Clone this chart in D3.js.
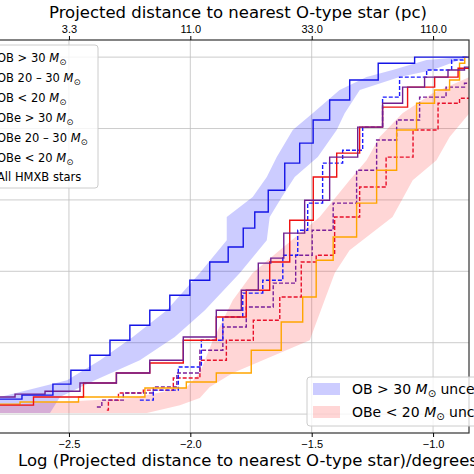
<!DOCTYPE html>
<html><head><meta charset="utf-8">
<script src="https://cdn.jsdelivr.net/npm/d3@7"></script>
<style>body{margin:0;background:#fff}svg{font-family:"DejaVu Sans",sans-serif}</style>
</head><body>
<svg id="svgRoot" width="474" height="474"></svg>
<script>
// cumulative curves, [log distance, fraction]
const ob_gt30 = [[-2.784,0.042],[-2.603,0.053],[-2.529,0.084],[-2.455,0.123],[-2.372,0.165],[-2.290,0.207],[-2.208,0.249],[-2.126,0.291],[-2.043,0.333],[-1.961,0.375],[-1.879,0.426],[-1.809,0.468],[-1.755,0.521],[-1.714,0.566],[-1.644,0.627],[-1.578,0.703],[-1.521,0.759],[-1.467,0.824],[-1.385,0.880],[-1.302,0.936],[-1.150,0.983],[-1.002,1.0],[-0.85,1.0]]
const ob_20_30 = [[-2.784,0.048],[-2.660,0.056],[-2.537,0.064],[-2.372,0.087],[-2.237,0.115],[-2.097,0.151],[-1.961,0.216],[-1.825,0.291],[-1.755,0.347],[-1.685,0.423],[-1.652,0.437],[-1.578,0.507],[-1.480,0.599],[-1.372,0.720],[-1.249,0.804],[-1.167,0.871],[-1.084,0.916],[-0.986,0.944],[-0.891,0.964],[-0.85,0.972]]
const ob_lt20 = [[-2.784,0.025],[-2.508,0.048],[-2.372,0.087],[-2.237,0.115],[-2.097,0.143],[-1.961,0.207],[-1.825,0.272],[-1.714,0.347],[-1.632,0.426],[-1.549,0.543],[-1.438,0.664],[-1.356,0.731],[-1.249,0.804],[-1.167,0.860],[-1.043,0.916],[-0.944,0.944],[-0.85,0.969]]
const obe_gt30 = [[-2.208,0.039],[-2.097,0.067],[-2.002,0.132],[-1.907,0.207],[-1.825,0.272],[-1.743,0.339],[-1.660,0.375],[-1.578,0.445],[-1.537,0.515],[-1.496,0.591],[-1.414,0.703],[-1.331,0.739],[-1.249,0.804],[-1.167,0.888],[-1.109,0.944],[-0.944,0.964],[-0.903,0.992],[-0.85,1.0]]
const obe_20_30 = [[-2.385,0.020],[-2.344,0.039],[-2.208,0.059],[-2.097,0.076],[-2.014,0.115],[-1.907,0.179],[-1.825,0.244],[-1.714,0.300],[-1.603,0.367],[-1.529,0.445],[-1.467,0.515],[-1.356,0.591],[-1.274,0.683],[-1.191,0.768],[-1.109,0.824],[-1.002,0.888],[-0.891,0.916],[-0.85,0.927]]
const obe_lt20 = [[-2.344,0.011],[-2.331,0.039],[-2.261,0.059],[-2.126,0.067],[-2.014,0.101],[-1.907,0.151],[-1.796,0.207],[-1.685,0.263],[-1.578,0.328],[-1.508,0.426],[-1.455,0.445],[-1.356,0.552],[-1.249,0.636],[-1.138,0.720],[-1.027,0.796],[-0.932,0.871],[-0.85,0.885]]
const all_hmxb = [[-2.784,0.028],[-2.619,0.034],[-2.302,0.048],[-2.072,0.073],[-1.961,0.090],[-1.825,0.115],[-1.673,0.179],[-1.578,0.258],[-1.496,0.328],[-1.467,0.431],[-1.356,0.496],[-1.274,0.591],[-1.191,0.683],[-1.109,0.796],[-1.027,0.871],[-0.961,0.908],[-0.903,0.936],[-0.879,0.983],[-0.86,1.0],[-0.85,1.0]]

// uncertainty bands: [fraction, left x, right x]
const band_ob_gt30 = [[0.003,-2.784,-2.578],[0.048,-2.784,-2.537],[0.095,-2.508,-2.393],[0.151,-2.372,-2.208],[0.216,-2.237,-2.064],[0.291,-2.097,-1.940],[0.395,-1.961,-1.796],[0.487,-1.850,-1.685],[0.552,-1.850,-1.673],[0.608,-1.743,-1.623],[0.664,-1.685,-1.570],[0.720,-1.644,-1.475],[0.796,-1.578,-1.397],[0.843,-1.496,-1.364],[0.908,-1.385,-1.302],[0.944,-1.274,-1.138],[0.964,-1.167,-1.002],[0.992,-1.027,-0.891],[1.0,-0.891,-0.854]]
const band_obe_lt20 = [[0.003,-2.784,-2.179],[0.025,-2.784,-2.043],[0.045,-2.237,-1.961],[0.076,-2.014,-1.920],[0.115,-1.961,-1.825],[0.207,-1.907,-1.508],[0.319,-1.825,-1.447],[0.395,-1.743,-1.405],[0.459,-1.632,-1.344],[0.552,-1.467,-1.167],[0.655,-1.344,-1.084],[0.711,-1.274,-0.986],[0.776,-1.220,-0.932],[0.843,-1.126,-0.85],[0.899,-1.002,-0.85],[0.944,-0.85,-0.85]]

const bottom_ticks = [-2.5, -2.0, -1.5, -1.0]
const top_labels = ["3.3", "11.0", "33.0", "110.0"]
const y_ticks = [0, 0.2, 0.4, 0.6, 0.8, 1.0]
const legend_names = [["OB > 30 ", "M"], ["OB 20 – 30 ", "M"], ["OB < 20 ", "M"], ["OBe > 30 ", "M"], ["OBe 20 – 30 ", "M"], ["OBe < 20 ", "M"], ["All HMXB stars", ""]]

let svg = d3.select("#svgRoot")
const pLeft = -1, pRight = 469, pTop = 40, pBot = 433

let x = d3.scaleLinear().domain([-2.784, -0.852]).range([0, 469])
let y = d3.scaleLinear().domain([-0.053, 1.048]).range([pBot, pTop])

svg.append("clipPath").attr("id", "clip").append("rect")
  .attr("x", pLeft).attr("y", pTop).attr("width", pRight - pLeft).attr("height", pBot - pTop)

// grid
let g_grid = svg.append("g").attr("stroke", "#b0b0b0").attr("stroke-width", 0.8).attr("opacity", 0.8)
g_grid.selectAll(".vg").data(bottom_ticks).enter().append("line")
  .attr("x1", d => x(d)).attr("x2", d => x(d)).attr("y1", pTop).attr("y2", pBot)
g_grid.selectAll(".hg").data(y_ticks).enter().append("line")
  .attr("y1", d => y(d)).attr("y2", d => y(d)).attr("x1", pLeft).attr("x2", pRight)

let plot = svg.append("g").attr("clip-path", "url(#clip)")

let band = d3.area().y(d => y(d[0])).x0(d => x(d[1])).x1(d => x(d[2]))
plot.append("path").datum(band_ob_gt30).attr("d", band).attr("fill", "#0000ff").attr("opacity", 0.2)
plot.append("path").datum(band_obe_lt20).attr("d", band).attr("fill", "#ff3030").attr("opacity", 0.2)

let line = d3.line().x(d => x(d[0])).y(d => y(d[1])).curve(d3.curveStep)
const series = [
  [obe_lt20, "#e8102a", "4,2"],
  [obe_20_30, "#7a1f9a", "4,2"],
  [obe_gt30, "#1a1aff", "4,2"],
  [all_hmxb, "#ffa500", null],
  [ob_lt20, "#ee1111", null],
  [ob_20_30, "#701f90", null],
  [ob_gt30, "#1414e6", null],
]
series.forEach(s => {
  plot.append("path").datum(s[0]).attr("d", line).attr("fill", "none")
    .attr("stroke", s[1]).attr("stroke-width", 1.4).attr("stroke-dasharray", s[2])
})

// frame
svg.append("rect").attr("x", pLeft).attr("y", pTop).attr("width", pRight - pLeft).attr("height", pBot - pTop)
  .attr("fill", "none").attr("stroke", "#333").attr("stroke-width", 1.2)

// bottom axis
let g_xAxis = svg.append("g").attr("transform", `translate(0,${pBot})`)
  .call(d3.axisBottom(x).tickValues(bottom_ticks).tickSize(4).tickFormat(d => d3.format(".1f")(d).replace("-", "−")))
g_xAxis.select(".domain").remove()
g_xAxis.selectAll("text").attr("font-size", 11).attr("fill", "#000")

let g_topAxis = svg.append("g").attr("transform", `translate(0,${pTop})`)
  .call(d3.axisTop(x).tickValues(bottom_ticks).tickSize(4).tickFormat((d, i) => top_labels[i]))
g_topAxis.select(".domain").remove()
g_topAxis.selectAll("text").attr("font-size", 11).attr("fill", "#000")

svg.append("text").attr("x", 238).attr("y", 18).attr("text-anchor", "middle").attr("font-size", 16.5)
  .text("Projected distance to nearest O-type star (pc)")
svg.append("text").attr("x", 18).attr("y", 466).attr("font-size", 16.5)
  .text("Log (Projected distance to nearest O-type star)/degrees")

// upper legend
svg.append("rect").attr("x", -10).attr("y", 45).attr("width", 108).attr("height", 143).attr("rx", 3)
  .attr("fill", "#fff").attr("fill-opacity", 0.8).attr("stroke", "#ccc")
let lg = svg.append("g").attr("font-size", 11.5)
legend_names.forEach((n, i) => {
  let t = lg.append("text").attr("x", -3).attr("y", 62 + i * 19.9)
  t.append("tspan").text(n[0])
  if (n[1]) {
    t.append("tspan").attr("font-style", "italic").text(n[1])
    t.append("tspan").attr("font-size", 8.5).attr("dy", 3).text("⊙")
  }
})

// lower legend
svg.append("rect").attr("x", 307).attr("y", 377).attr("width", 200).attr("height", 49).attr("rx", 3)
  .attr("fill", "#fff").attr("fill-opacity", 0.8).attr("stroke", "#ccc")
const band_legend = [["OB > 30 ", "#0000ff"], ["OBe < 20 ", "#ff3030"]]
band_legend.forEach((b, i) => {
  let yy = 383 + i * 23
  svg.append("rect").attr("x", 313).attr("y", yy).attr("width", 27).attr("height", 12)
    .attr("fill", b[1]).attr("opacity", 0.2)
  let t = svg.append("text").attr("x", 352).attr("y", yy + 11).attr("font-size", 14)
  t.append("tspan").text(b[0])
  t.append("tspan").attr("font-style", "italic").text("M")
  t.append("tspan").attr("font-size", 10).attr("dy", 3).text("⊙")
  t.append("tspan").attr("dy", -3).text(" uncertainty")
})
</script>
</body></html>
